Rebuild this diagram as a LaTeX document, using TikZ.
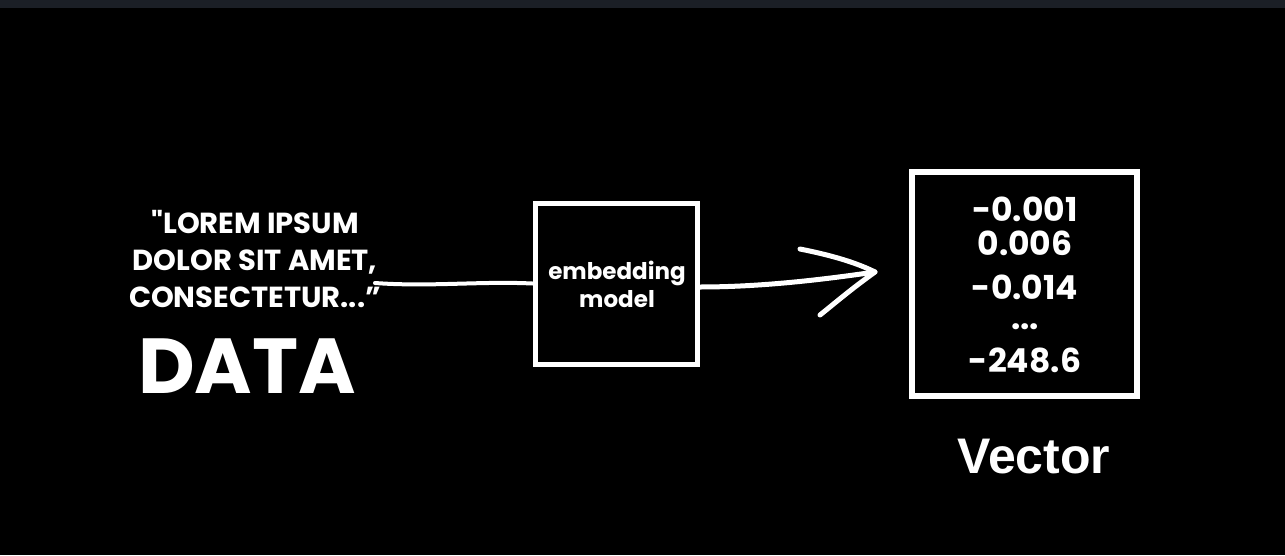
\documentclass[tikz,border=0pt]{standalone}
\usepackage{fontspec}
\setmainfont{Poppins}
\newfontfamily\plainpop{Poppins}
\newfontfamily\vecfont{Liberation Sans}
\definecolor{topbar}{HTML}{1B1F26}
\begin{document}
\begin{tikzpicture}[x=1pt,y=-1pt,
  txt/.style={text=white,font=\bfseries,inner sep=0pt},
  boxs/.style={draw=white,line width=5pt},
  num/.style={txt,font=\bfseries\fontsize{33}{34}\selectfont},
  strokes/.style={draw=white,line width=5pt,line cap=round,line join=round}]
\fill[black] (0,0) rectangle (1285,555);
\useasboundingbox (0,0) rectangle (1285,555);
\fill[topbar] (0,0) rectangle (1285,8);
\node[txt,font=\bfseries\fontsize{29}{37}\selectfont,align=center] (lorem) at (255,259) {{\plainpop\bfseries"}LOREM IPSUM\\DOLOR SIT AMET,\\CONSECTETUR...”};
\node[txt,font=\bfseries\fontsize{78}{80}\selectfont] (data) at (247,366) {DATA};
\node[boxs,minimum width=162pt,minimum height=161pt] (emb) at (616,283.5) {};
\node[txt,font=\bfseries\fontsize{23}{28}\selectfont,align=center] (embt) at (617,284) {embedding\\model};
\node[boxs,line width=6pt,minimum width=225pt,minimum height=224pt] (vec) at (1024.5,284) {};
\node[num] (n1) at (1025,209) {-0.001};
\node[num] (n2) at (1025,243) {0.006};
\node[num] (n3) at (1025,287) {-0.014};
\node[num] (n4) at (1025,327) {...};
\node[num] (n5) at (1025,360) {-248.6};
\node[txt,font=\vecfont\bfseries\fontsize{50}{52}\selectfont] (vt) at (1034,457) {Vector};
\coordinate (s) at (375,283);
\draw[strokes,line width=4pt] (s) .. controls (430,287) and (480,281) .. (emb.west);
\coordinate (tip) at (875,272);
\draw[strokes] (emb.east |- 0,287) .. controls (760,287) and (820,280) .. (tip);
\draw[strokes] (800,249) .. controls (830,255) and (855,262) .. (tip) .. controls (850,290) and (835,303) .. (820,315);
\end{tikzpicture}
\end{document}
